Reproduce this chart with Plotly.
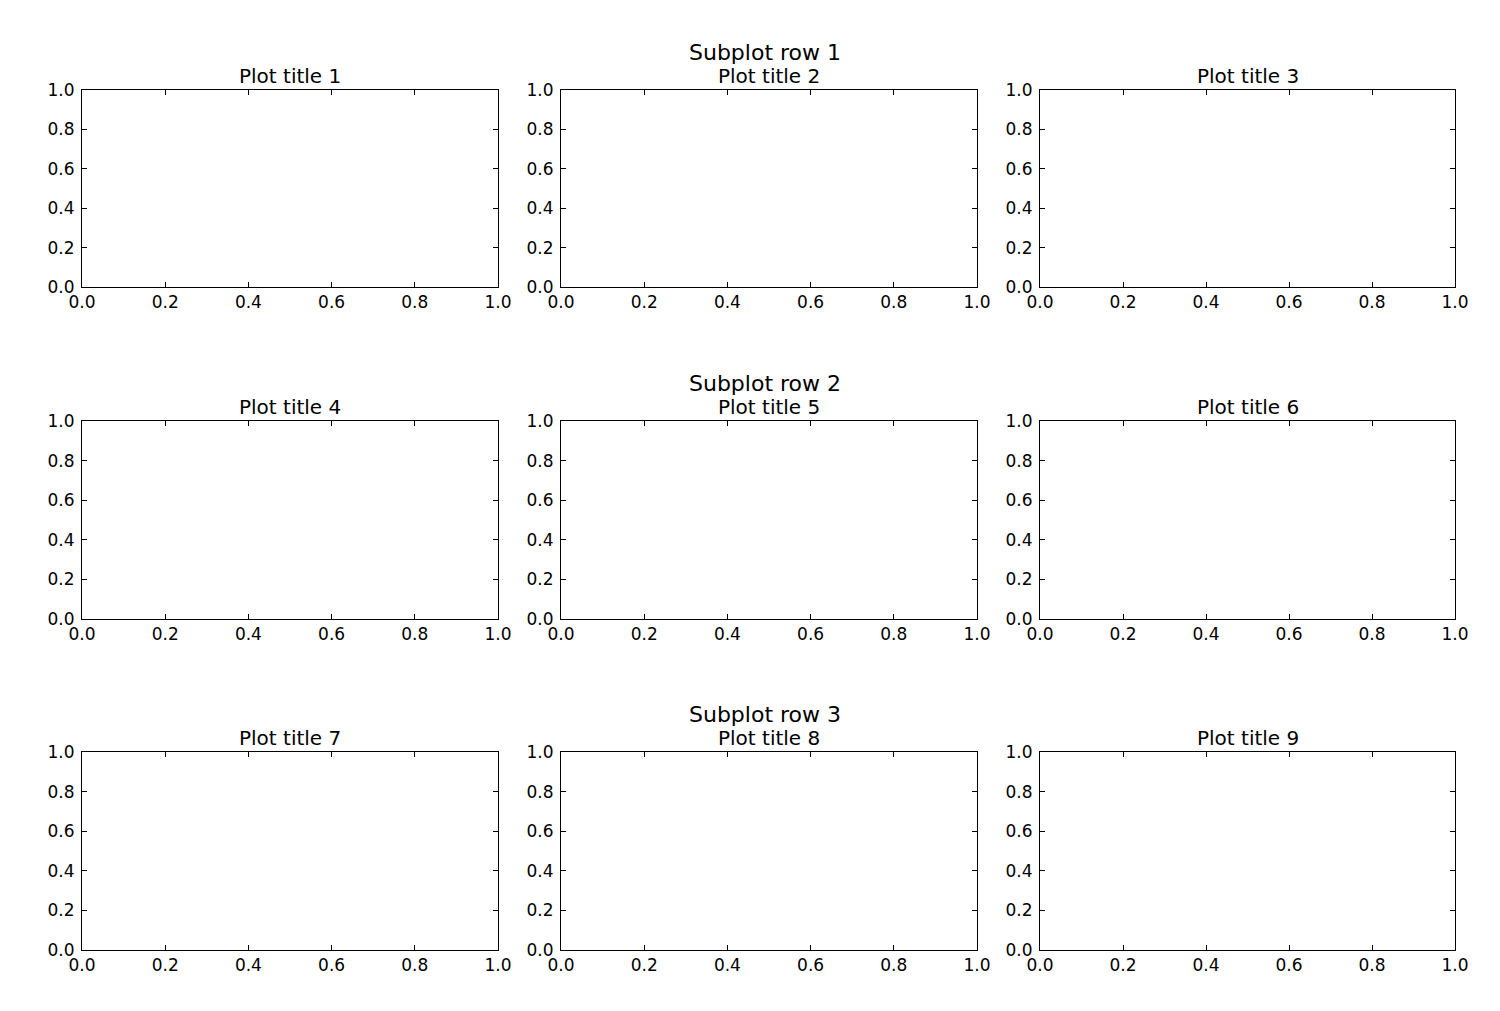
import plotly.graph_objects as go

W, H = 1500, 1011
plot_titles = [f"Plot title {i}" for i in range(1, 10)]
row_titles = ["Subplot row 1", "Subplot row 2", "Subplot row 3"]
tick_vals = [0.0, 0.2, 0.4, 0.6, 0.8, 1.0]
tick_text = ["0.0", "0.2", "0.4", "0.6", "0.8", "1.0"]

# pixel layout of axes boxes
col_px = [(82, 498), (561, 977), (1040, 1455)]
row_px = [(90, 287), (421, 619), (752, 950)]

FONT = "DejaVu Sans"
fig = go.Figure()
annotations = []
for r in range(3):
    for c in range(3):
        i = r * 3 + c + 1
        xa = "xaxis" if i == 1 else f"xaxis{i}"
        ya = "yaxis" if i == 1 else f"yaxis{i}"
        xref = "x" if i == 1 else f"x{i}"
        yref = "y" if i == 1 else f"y{i}"
        fig.add_trace(go.Scatter(x=[], y=[], xaxis=xref, yaxis=yref, showlegend=False))
        x0, x1 = col_px[c]
        y0, y1 = row_px[r]
        common = dict(
            range=[0, 1], tickvals=tick_vals, ticktext=tick_text,
            ticks="inside", ticklen=5, tickwidth=1, tickcolor="black",
            showline=True, linecolor="black", linewidth=1, mirror="ticks",
            showgrid=False, zeroline=False, fixedrange=True, automargin=False,
            tickfont=dict(family=FONT, size=17, color="black"),
        )
        fig.layout[xa] = dict(domain=[x0 / W, x1 / W], anchor=yref, **common)
        fig.layout[ya] = dict(domain=[1 - y1 / H, 1 - y0 / H], anchor=xref,
                              ticklabelstandoff=3, **common)
        annotations.append(dict(
            text=plot_titles[i - 1], x=(x0 + x1) / 2 / W, y=1 - y0 / H,
            xref="paper", yref="paper", xanchor="center", yanchor="bottom",
            showarrow=False, font=dict(family=FONT, size=20, color="black"),
        ))
    annotations.append(dict(
        text=row_titles[r], x=765 / W, y=1 - (row_px[r][0] - 23) / H,
        xref="paper", yref="paper", xanchor="center", yanchor="bottom",
        showarrow=False, font=dict(family=FONT, size=22, color="black"),
    ))

fig.update_layout(
    width=W, height=H, margin=dict(l=0, r=0, t=0, b=0),
    paper_bgcolor="white", plot_bgcolor="white",
    annotations=annotations, showlegend=False,
    font=dict(family=FONT, color="black"),
)
fig.write_html("out.html", config={"displayModeBar": False},
               post_script="document.body.style.margin='0';")
